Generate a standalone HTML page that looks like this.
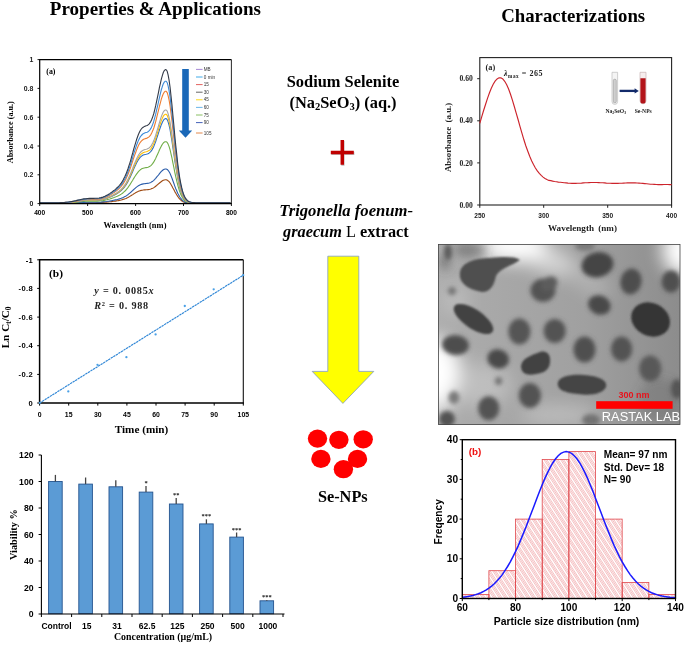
<!DOCTYPE html>
<html lang="en"><head><meta charset="utf-8"><title>Graphical abstract</title>
<style>
html,body{margin:0;padding:0;background:#fff;}
body{width:685px;height:645px;overflow:hidden;}
svg{display:block;}
text.s{font-family:"Liberation Serif",serif;}
text.a{font-family:"Liberation Sans",sans-serif;}
</style></head><body>
<svg width="685" height="645" viewBox="0 0 685 645">
<defs>
<filter id="b1" x="-30%" y="-30%" width="160%" height="160%"><feGaussianBlur stdDeviation="1.1"/></filter>
<filter id="b2" x="-30%" y="-30%" width="160%" height="160%"><feGaussianBlur stdDeviation="1.9"/></filter>
<filter id="b3" x="-50%" y="-50%" width="200%" height="200%"><feGaussianBlur stdDeviation="5"/></filter>
<filter id="b4" x="-50%" y="-50%" width="200%" height="200%"><feGaussianBlur stdDeviation="9"/></filter>
<filter id="sh" x="-30%" y="-30%" width="160%" height="160%"><feGaussianBlur stdDeviation="0.7"/></filter>
<clipPath id="temclip"><rect x="438.5" y="244.5" width="241.5" height="180"/></clipPath>
<clipPath id="c1"><rect x="39.5" y="59.5" width="192" height="144"/></clipPath>
<pattern id="hatch" width="4.6" height="8" patternUnits="userSpaceOnUse" patternTransform="rotate(-33)">
<rect width="4.6" height="8" fill="#fff"/>
<line x1="0.6" y1="0" x2="0.6" y2="8" stroke="#e66a6c" stroke-width="0.42"/>
<line x1="1.7" y1="0" x2="1.7" y2="8" stroke="#e66a6c" stroke-width="0.42"/>
<line x1="2.7" y1="0" x2="2.7" y2="8" stroke="#e66a6c" stroke-width="0.42"/>
</pattern>
</defs>
<rect width="685" height="645" fill="#fff"/>

<text class="s" x="155.4" y="14.5" font-size="19.05" text-anchor="middle" font-weight="bold" fill="#000">Properties &amp; Applications</text>
<text class="s" x="573.2" y="21.6" font-size="18.8" text-anchor="middle" font-weight="bold" fill="#000">Characterizations</text>
<g fill="none" stroke-width="1.1" stroke-linejoin="round" clip-path="url(#c1)">
<polyline stroke="#9e4a12" points="39.7,203.5 41.6,203.5 43.5,203.4 45.5,203.4 47.4,203.4 49.3,203.4 51.2,203.4 53.1,203.4 55.0,203.4 57.0,203.4 58.9,203.4 60.8,203.4 62.7,203.4 64.6,203.4 66.5,203.4 68.5,203.3 70.4,203.3 72.3,203.2 74.2,203.1 76.1,203.1 78.0,203.0 80.0,202.9 81.9,202.8 83.8,202.8 85.7,202.7 87.6,202.7 89.5,202.7 91.5,202.7 93.4,202.7 95.3,202.7 97.2,202.6 99.1,202.6 101.0,202.5 103.0,202.4 104.9,202.3 106.8,202.1 107.8,202.0 108.7,201.9 109.7,201.8 110.6,201.7 111.6,201.6 112.5,201.5 113.5,201.3 114.5,201.2 115.4,201.1 116.4,200.9 117.3,200.7 118.3,200.6 119.3,200.4 120.2,200.2 121.2,200.0 122.1,199.7 123.1,199.4 124.0,199.1 125.0,198.8 126.0,198.4 126.9,197.9 127.9,197.5 128.8,197.0 129.8,196.4 130.8,195.8 131.7,195.2 132.7,194.6 133.6,194.0 134.6,193.4 135.6,192.8 136.5,192.3 137.5,191.8 138.4,191.3 139.4,190.9 140.3,190.6 141.3,190.4 142.3,190.2 143.2,190.0 144.2,189.9 145.1,189.9 146.1,189.8 147.1,189.7 148.0,189.6 149.0,189.5 149.9,189.3 150.9,189.0 151.8,188.6 152.8,188.2 153.8,187.6 154.7,187.0 155.7,186.2 156.6,185.5 157.6,184.6 158.6,183.8 159.5,183.0 160.5,182.2 161.4,181.5 162.4,180.8 163.3,180.3 164.3,180.0 165.3,179.8 166.2,179.8 167.2,180.1 168.1,180.8 169.1,181.7 170.1,183.0 171.0,184.5 172.0,186.2 172.9,188.0 173.9,189.8 174.8,191.6 175.8,193.3 176.8,195.0 177.7,196.4 178.7,197.8 179.6,198.9 180.6,199.9 181.6,200.7 182.5,201.4 183.5,201.9 184.4,202.3 185.4,202.6 186.4,202.9 187.3,203.0 188.3,203.2 189.2,203.3 190.2,203.3 191.1,203.4 192.1,203.4 193.1,203.4 194.0,203.4 195.9,203.4 197.9,203.4 199.8,203.4 201.7,203.4 203.6,203.5 205.5,203.5 207.4,203.5 209.4,203.5 211.3,203.5 213.2,203.5 215.1,203.5 217.0,203.5 218.9,203.5 220.9,203.5 222.8,203.5 224.7,203.5 226.6,203.5 228.5,203.5 230.4,203.5"/>
<polyline stroke="#2a5caa" points="39.7,203.4 41.6,203.4 43.5,203.4 45.5,203.4 47.4,203.4 49.3,203.4 51.2,203.4 53.1,203.4 55.0,203.4 57.0,203.4 58.9,203.4 60.8,203.3 62.7,203.3 64.6,203.3 66.5,203.2 68.5,203.2 70.4,203.1 72.3,203.0 74.2,202.9 76.1,202.8 78.0,202.7 80.0,202.6 81.9,202.5 83.8,202.4 85.7,202.3 87.6,202.3 89.5,202.3 91.5,202.3 93.4,202.3 95.3,202.2 97.2,202.2 99.1,202.2 101.0,202.1 103.0,201.9 104.9,201.7 106.8,201.5 107.8,201.3 108.7,201.2 109.7,201.0 110.6,200.9 111.6,200.7 112.5,200.5 113.5,200.3 114.5,200.1 115.4,199.9 116.4,199.7 117.3,199.5 118.3,199.2 119.3,198.9 120.2,198.6 121.2,198.3 122.1,197.9 123.1,197.5 124.0,197.1 125.0,196.6 126.0,196.0 126.9,195.4 127.9,194.7 128.8,193.9 129.8,193.1 130.8,192.3 131.7,191.4 132.7,190.5 133.6,189.6 134.6,188.8 135.6,187.9 136.5,187.1 137.5,186.4 138.4,185.8 139.4,185.2 140.3,184.7 141.3,184.4 142.3,184.1 143.2,183.9 144.2,183.7 145.1,183.6 146.1,183.5 147.1,183.4 148.0,183.3 149.0,183.1 149.9,182.8 150.9,182.4 151.8,181.8 152.8,181.2 153.8,180.3 154.7,179.4 155.7,178.3 156.6,177.2 157.6,176.0 158.6,174.8 159.5,173.6 160.5,172.4 161.4,171.4 162.4,170.5 163.3,169.8 164.3,169.3 165.3,169.0 166.2,169.0 167.2,169.4 168.1,170.4 169.1,171.8 170.1,173.6 171.0,175.8 172.0,178.2 172.9,180.8 173.9,183.5 174.8,186.1 175.8,188.7 176.8,191.0 177.7,193.2 178.7,195.1 179.6,196.8 180.6,198.2 181.6,199.4 182.5,200.3 183.5,201.1 184.4,201.7 185.4,202.2 186.4,202.5 187.3,202.8 188.3,203.0 189.2,203.1 190.2,203.2 191.1,203.3 192.1,203.3 193.1,203.3 194.0,203.4 195.9,203.4 197.9,203.4 199.8,203.4 201.7,203.4 203.6,203.4 205.5,203.4 207.4,203.4 209.4,203.4 211.3,203.4 213.2,203.4 215.1,203.4 217.0,203.4 218.9,203.4 220.9,203.4 222.8,203.4 224.7,203.4 226.6,203.4 228.5,203.4 230.4,203.4"/>
<polyline stroke="#70ad47" points="39.7,203.2 41.6,203.2 43.5,203.2 45.5,203.2 47.4,203.2 49.3,203.2 51.2,203.2 53.1,203.2 55.0,203.2 57.0,203.2 58.9,203.2 60.8,203.1 62.7,203.1 64.6,203.0 66.5,203.0 68.5,202.9 70.4,202.7 72.3,202.6 74.2,202.4 76.1,202.2 78.0,202.0 80.0,201.8 81.9,201.6 83.8,201.4 85.7,201.3 87.6,201.2 89.5,201.2 91.5,201.2 93.4,201.2 95.3,201.2 97.2,201.1 99.1,201.0 101.0,200.8 103.0,200.6 104.9,200.2 106.8,199.8 107.8,199.5 108.7,199.3 109.7,199.0 110.6,198.7 111.6,198.4 112.5,198.0 113.5,197.7 114.5,197.3 115.4,197.0 116.4,196.6 117.3,196.2 118.3,195.7 119.3,195.2 120.2,194.7 121.2,194.1 122.1,193.5 123.1,192.7 124.0,191.9 125.0,191.0 126.0,190.0 126.9,188.8 127.9,187.6 128.8,186.3 129.8,184.9 130.8,183.3 131.7,181.8 132.7,180.2 133.6,178.6 134.6,177.0 135.6,175.5 136.5,174.1 137.5,172.8 138.4,171.6 139.4,170.6 140.3,169.8 141.3,169.1 142.3,168.6 143.2,168.3 144.2,168.0 145.1,167.8 146.1,167.6 147.1,167.5 148.0,167.2 149.0,166.8 149.9,166.3 150.9,165.6 151.8,164.6 152.8,163.4 153.8,161.9 154.7,160.2 155.7,158.4 156.6,156.3 157.6,154.2 158.6,152.0 159.5,149.8 160.5,147.8 161.4,145.9 162.4,144.3 163.3,143.0 164.3,142.1 165.3,141.7 166.2,141.7 167.2,142.4 168.1,144.1 169.1,146.6 170.1,149.9 171.0,153.8 172.0,158.2 172.9,162.8 173.9,167.6 174.8,172.3 175.8,176.8 176.8,181.1 177.7,184.9 178.7,188.4 179.6,191.4 180.6,193.9 181.6,196.0 182.5,197.7 183.5,199.1 184.4,200.2 185.4,201.0 186.4,201.7 187.3,202.1 188.3,202.5 189.2,202.7 190.2,202.9 191.1,203.0 192.1,203.1 193.1,203.1 194.0,203.2 195.9,203.2 197.9,203.2 199.8,203.2 201.7,203.2 203.6,203.2 205.5,203.2 207.4,203.2 209.4,203.2 211.3,203.2 213.2,203.2 215.1,203.2 217.0,203.2 218.9,203.2 220.9,203.2 222.8,203.2 224.7,203.2 226.6,203.2 228.5,203.2 230.4,203.2"/>
<polyline stroke="#2e6fc0" points="39.7,203.1 41.6,203.1 43.5,203.1 45.5,203.1 47.4,203.1 49.3,203.1 51.2,203.1 53.1,203.1 55.0,203.0 57.0,203.0 58.9,203.0 60.8,203.0 62.7,202.9 64.6,202.8 66.5,202.7 68.5,202.6 70.4,202.4 72.3,202.2 74.2,201.9 76.1,201.7 78.0,201.4 80.0,201.1 81.9,200.9 83.8,200.6 85.7,200.5 87.6,200.4 89.5,200.3 91.5,200.3 93.4,200.3 95.3,200.3 97.2,200.2 99.1,200.1 101.0,199.8 103.0,199.5 104.9,199.0 106.8,198.4 107.8,198.0 108.7,197.6 109.7,197.3 110.6,196.8 111.6,196.4 112.5,196.0 113.5,195.5 114.5,195.0 115.4,194.5 116.4,194.0 117.3,193.4 118.3,192.8 119.3,192.1 120.2,191.4 121.2,190.6 122.1,189.7 123.1,188.7 124.0,187.6 125.0,186.3 126.0,184.9 126.9,183.4 127.9,181.7 128.8,179.8 129.8,177.9 130.8,175.8 131.7,173.7 132.7,171.5 133.6,169.3 134.6,167.1 135.6,165.1 136.5,163.1 137.5,161.3 138.4,159.7 139.4,158.4 140.3,157.2 141.3,156.3 142.3,155.6 143.2,155.1 144.2,154.7 145.1,154.5 146.1,154.3 147.1,154.0 148.0,153.7 149.0,153.2 149.9,152.4 150.9,151.4 151.8,150.1 152.8,148.4 153.8,146.4 154.7,144.1 155.7,141.5 156.6,138.7 157.6,135.8 158.6,132.7 159.5,129.8 160.5,127.0 161.4,124.4 162.4,122.2 163.3,120.5 164.3,119.2 165.3,118.6 166.2,118.6 167.2,119.6 168.1,121.9 169.1,125.4 170.1,129.9 171.0,135.3 172.0,141.3 172.9,147.6 173.9,154.2 174.8,160.6 175.8,166.9 176.8,172.7 177.7,178.0 178.7,182.7 179.6,186.8 180.6,190.3 181.6,193.2 182.5,195.6 183.5,197.5 184.4,198.9 185.4,200.1 186.4,200.9 187.3,201.6 188.3,202.0 189.2,202.4 190.2,202.6 191.1,202.8 192.1,202.9 193.1,202.9 194.0,203.0 195.9,203.0 197.9,203.1 199.8,203.1 201.7,203.1 203.6,203.1 205.5,203.1 207.4,203.1 209.4,203.1 211.3,203.1 213.2,203.1 215.1,203.1 217.0,203.1 218.9,203.1 220.9,203.1 222.8,203.1 224.7,203.1 226.6,203.1 228.5,203.1 230.4,203.1"/>
<polyline stroke="#ffc000" points="39.7,203.0 41.6,203.0 43.5,203.0 45.5,203.0 47.4,203.0 49.3,203.0 51.2,203.0 53.1,203.0 55.0,203.0 57.0,203.0 58.9,203.0 60.8,202.9 62.7,202.9 64.6,202.8 66.5,202.7 68.5,202.5 70.4,202.3 72.3,202.1 74.2,201.9 76.1,201.6 78.0,201.3 80.0,201.0 81.9,200.7 83.8,200.5 85.7,200.3 87.6,200.2 89.5,200.1 91.5,200.1 93.4,200.1 95.3,200.1 97.2,200.0 99.1,199.9 101.0,199.6 103.0,199.2 104.9,198.7 106.8,198.1 107.8,197.7 108.7,197.3 109.7,196.9 110.6,196.5 111.6,196.0 112.5,195.6 113.5,195.1 114.5,194.6 115.4,194.0 116.4,193.5 117.3,192.9 118.3,192.2 119.3,191.5 120.2,190.8 121.2,189.9 122.1,189.0 123.1,187.9 124.0,186.8 125.0,185.4 126.0,184.0 126.9,182.3 127.9,180.6 128.8,178.6 129.8,176.6 130.8,174.4 131.7,172.1 132.7,169.9 133.6,167.6 134.6,165.3 135.6,163.1 136.5,161.1 137.5,159.2 138.4,157.5 139.4,156.1 140.3,154.9 141.3,153.9 142.3,153.2 143.2,152.6 144.2,152.3 145.1,152.0 146.1,151.8 147.1,151.5 148.0,151.1 149.0,150.6 149.9,149.8 150.9,148.8 151.8,147.4 152.8,145.6 153.8,143.5 154.7,141.1 155.7,138.4 156.6,135.4 157.6,132.3 158.6,129.1 159.5,126.0 160.5,123.1 161.4,120.4 162.4,118.1 163.3,116.2 164.3,114.9 165.3,114.3 166.2,114.3 167.2,115.4 168.1,117.8 169.1,121.4 170.1,126.2 171.0,131.8 172.0,138.1 172.9,144.8 173.9,151.7 174.8,158.5 175.8,165.0 176.8,171.1 177.7,176.7 178.7,181.6 179.6,185.9 180.6,189.6 181.6,192.7 182.5,195.2 183.5,197.1 184.4,198.7 185.4,199.9 186.4,200.8 187.3,201.5 188.3,202.0 189.2,202.3 190.2,202.6 191.1,202.7 192.1,202.8 193.1,202.9 194.0,203.0 195.9,203.0 197.9,203.0 199.8,203.0 201.7,203.0 203.6,203.0 205.5,203.0 207.4,203.0 209.4,203.0 211.3,203.0 213.2,203.0 215.1,203.0 217.0,203.0 218.9,203.0 220.9,203.0 222.8,203.0 224.7,203.0 226.6,203.0 228.5,203.0 230.4,203.0"/>
<polyline stroke="#a5a5a5" points="39.7,203.0 41.6,203.0 43.5,203.0 45.5,203.0 47.4,203.0 49.3,203.0 51.2,203.0 53.1,203.0 55.0,203.0 57.0,203.0 58.9,202.9 60.8,202.9 62.7,202.8 64.6,202.8 66.5,202.6 68.5,202.5 70.4,202.3 72.3,202.0 74.2,201.8 76.1,201.5 78.0,201.2 80.0,200.9 81.9,200.6 83.8,200.3 85.7,200.2 87.6,200.0 89.5,200.0 91.5,200.0 93.4,199.9 95.3,199.9 97.2,199.9 99.1,199.7 101.0,199.4 103.0,199.0 104.9,198.5 106.8,197.8 107.8,197.4 108.7,197.0 109.7,196.6 110.6,196.2 111.6,195.7 112.5,195.2 113.5,194.7 114.5,194.1 115.4,193.6 116.4,193.0 117.3,192.4 118.3,191.7 119.3,191.0 120.2,190.2 121.2,189.3 122.1,188.3 123.1,187.2 124.0,185.9 125.0,184.6 126.0,183.0 126.9,181.3 127.9,179.4 128.8,177.4 129.8,175.3 130.8,173.0 131.7,170.6 132.7,168.2 133.6,165.8 134.6,163.4 135.6,161.1 136.5,159.0 137.5,157.0 138.4,155.3 139.4,153.8 140.3,152.5 141.3,151.5 142.3,150.7 143.2,150.2 144.2,149.8 145.1,149.5 146.1,149.3 147.1,149.0 148.0,148.6 149.0,148.0 149.9,147.2 150.9,146.1 151.8,144.6 152.8,142.8 153.8,140.6 154.7,138.1 155.7,135.2 156.6,132.1 157.6,128.9 158.6,125.5 159.5,122.3 160.5,119.2 161.4,116.4 162.4,113.9 163.3,112.0 164.3,110.7 165.3,110.0 166.2,110.0 167.2,111.1 168.1,113.6 169.1,117.4 170.1,122.4 171.0,128.3 172.0,134.9 172.9,142.0 173.9,149.2 174.8,156.3 175.8,163.1 176.8,169.5 177.7,175.4 178.7,180.6 179.6,185.1 180.6,188.9 181.6,192.1 182.5,194.7 183.5,196.8 184.4,198.5 185.4,199.7 186.4,200.7 187.3,201.4 188.3,201.9 189.2,202.3 190.2,202.5 191.1,202.7 192.1,202.8 193.1,202.9 194.0,202.9 195.9,203.0 197.9,203.0 199.8,203.0 201.7,203.0 203.6,203.0 205.5,203.0 207.4,203.0 209.4,203.0 211.3,203.0 213.2,203.0 215.1,203.0 217.0,203.0 218.9,203.0 220.9,203.0 222.8,203.0 224.7,203.0 226.6,203.0 228.5,203.0 230.4,203.0"/>
<polyline stroke="#ed7d31" points="39.7,202.9 41.6,202.9 43.5,202.9 45.5,202.9 47.4,202.9 49.3,202.9 51.2,202.9 53.1,202.9 55.0,202.9 57.0,202.8 58.9,202.8 60.8,202.8 62.7,202.7 64.6,202.6 66.5,202.4 68.5,202.3 70.4,202.0 72.3,201.7 74.2,201.4 76.1,201.1 78.0,200.7 80.0,200.3 81.9,200.0 83.8,199.7 85.7,199.5 87.6,199.3 89.5,199.3 91.5,199.2 93.4,199.2 95.3,199.2 97.2,199.1 99.1,198.9 101.0,198.6 103.0,198.1 104.9,197.5 106.8,196.7 107.8,196.2 108.7,195.7 109.7,195.2 110.6,194.7 111.6,194.1 112.5,193.5 113.5,192.9 114.5,192.2 115.4,191.6 116.4,190.9 117.3,190.1 118.3,189.3 119.3,188.4 120.2,187.5 121.2,186.4 122.1,185.2 123.1,183.9 124.0,182.4 125.0,180.7 126.0,178.9 126.9,176.8 127.9,174.6 128.8,172.2 129.8,169.6 130.8,166.9 131.7,164.0 132.7,161.1 133.6,158.2 134.6,155.4 135.6,152.7 136.5,150.1 137.5,147.7 138.4,145.6 139.4,143.8 140.3,142.3 141.3,141.1 142.3,140.2 143.2,139.5 144.2,139.0 145.1,138.7 146.1,138.4 147.1,138.1 148.0,137.6 149.0,136.9 149.9,135.9 150.9,134.6 151.8,132.8 152.8,130.6 153.8,128.0 154.7,125.0 155.7,121.5 156.6,117.8 157.6,113.9 158.6,109.9 159.5,106.0 160.5,102.3 161.4,98.9 162.4,96.0 163.3,93.7 164.3,92.1 165.3,91.2 166.2,91.3 167.2,92.6 168.1,95.6 169.1,100.2 170.1,106.2 171.0,113.3 172.0,121.2 172.9,129.6 173.9,138.3 174.8,146.8 175.8,155.0 176.8,162.7 177.7,169.7 178.7,176.0 179.6,181.4 180.6,186.0 181.6,189.8 182.5,193.0 183.5,195.5 184.4,197.4 185.4,199.0 186.4,200.1 187.3,200.9 188.3,201.5 189.2,202.0 190.2,202.3 191.1,202.5 192.1,202.6 193.1,202.7 194.0,202.8 195.9,202.9 197.9,202.9 199.8,202.9 201.7,202.9 203.6,202.9 205.5,202.9 207.4,202.9 209.4,202.9 211.3,202.9 213.2,202.9 215.1,202.9 217.0,202.9 218.9,202.9 220.9,202.9 222.8,202.9 224.7,202.9 226.6,202.9 228.5,202.9 230.4,202.9"/>
<polyline stroke="#3d8bd8" points="39.7,202.8 41.6,202.8 43.5,202.8 45.5,202.8 47.4,202.8 49.3,202.8 51.2,202.8 53.1,202.8 55.0,202.8 57.0,202.8 58.9,202.7 60.8,202.7 62.7,202.6 64.6,202.5 66.5,202.3 68.5,202.1 70.4,201.9 72.3,201.6 74.2,201.2 76.1,200.8 78.0,200.4 80.0,200.0 81.9,199.7 83.8,199.3 85.7,199.1 87.6,198.9 89.5,198.9 91.5,198.8 93.4,198.8 95.3,198.8 97.2,198.7 99.1,198.5 101.0,198.1 103.0,197.6 104.9,196.9 106.8,196.0 107.8,195.6 108.7,195.0 109.7,194.5 110.6,193.9 111.6,193.2 112.5,192.6 113.5,191.9 114.5,191.2 115.4,190.5 116.4,189.7 117.3,188.9 118.3,188.0 119.3,187.1 120.2,186.0 121.2,184.9 122.1,183.6 123.1,182.1 124.0,180.5 125.0,178.7 126.0,176.7 126.9,174.4 127.9,172.0 128.8,169.4 129.8,166.5 130.8,163.6 131.7,160.5 132.7,157.3 133.6,154.2 134.6,151.1 135.6,148.1 136.5,145.3 137.5,142.7 138.4,140.4 139.4,138.4 140.3,136.8 141.3,135.5 142.3,134.5 143.2,133.7 144.2,133.2 145.1,132.8 146.1,132.5 147.1,132.2 148.0,131.7 149.0,130.9 149.9,129.9 150.9,128.4 151.8,126.5 152.8,124.1 153.8,121.2 154.7,117.9 155.7,114.2 156.6,110.1 157.6,105.9 158.6,101.5 159.5,97.3 160.5,93.2 161.4,89.5 162.4,86.3 163.3,83.8 164.3,82.1 165.3,81.2 166.2,81.2 167.2,82.7 168.1,85.9 169.1,90.9 170.1,97.4 171.0,105.2 172.0,113.8 172.9,123.0 173.9,132.4 174.8,141.7 175.8,150.7 176.8,159.1 177.7,166.7 178.7,173.5 179.6,179.4 180.6,184.4 181.6,188.6 182.5,192.0 183.5,194.8 184.4,196.9 185.4,198.5 186.4,199.8 187.3,200.7 188.3,201.4 189.2,201.8 190.2,202.2 191.1,202.4 192.1,202.6 193.1,202.7 194.0,202.7 195.9,202.8 197.9,202.8 199.8,202.8 201.7,202.8 203.6,202.8 205.5,202.8 207.4,202.8 209.4,202.8 211.3,202.8 213.2,202.8 215.1,202.8 217.0,202.8 218.9,202.8 220.9,202.8 222.8,202.8 224.7,202.8 226.6,202.8 228.5,202.8 230.4,202.8"/>
<polyline stroke="#333a48" points="39.7,202.8 41.6,202.8 43.5,202.8 45.5,202.8 47.4,202.8 49.3,202.7 51.2,202.7 53.1,202.7 55.0,202.7 57.0,202.7 58.9,202.7 60.8,202.6 62.7,202.5 64.6,202.4 66.5,202.2 68.5,202.0 70.4,201.7 72.3,201.4 74.2,201.0 76.1,200.6 78.0,200.1 80.0,199.7 81.9,199.3 83.8,198.9 85.7,198.7 87.6,198.5 89.5,198.4 91.5,198.4 93.4,198.4 95.3,198.3 97.2,198.2 99.1,198.0 101.0,197.6 103.0,197.1 104.9,196.3 106.8,195.3 107.8,194.8 108.7,194.2 109.7,193.6 110.6,192.9 111.6,192.3 112.5,191.6 113.5,190.8 114.5,190.1 115.4,189.3 116.4,188.4 117.3,187.5 118.3,186.6 119.3,185.5 120.2,184.4 121.2,183.1 122.1,181.7 123.1,180.1 124.0,178.3 125.0,176.3 126.0,174.1 126.9,171.7 127.9,169.0 128.8,166.1 129.8,163.1 130.8,159.8 131.7,156.4 132.7,153.0 133.6,149.5 134.6,146.1 135.6,142.9 136.5,139.8 137.5,137.0 138.4,134.5 139.4,132.3 140.3,130.5 141.3,129.0 142.3,127.9 143.2,127.2 144.2,126.6 145.1,126.2 146.1,125.8 147.1,125.4 148.0,124.9 149.0,124.1 149.9,122.9 150.9,121.3 151.8,119.2 152.8,116.6 153.8,113.5 154.7,109.8 155.7,105.7 156.6,101.3 157.6,96.7 158.6,91.9 159.5,87.2 160.5,82.8 161.4,78.8 162.4,75.3 163.3,72.5 164.3,70.6 165.3,69.6 166.2,69.7 167.2,71.3 168.1,74.9 169.1,80.3 170.1,87.5 171.0,95.9 172.0,105.3 172.9,115.4 173.9,125.7 174.8,135.9 175.8,145.7 176.8,154.9 177.7,163.2 178.7,170.7 179.6,177.1 180.6,182.6 181.6,187.2 182.5,190.9 183.5,193.9 184.4,196.3 185.4,198.1 186.4,199.4 187.3,200.4 188.3,201.2 189.2,201.7 190.2,202.0 191.1,202.3 192.1,202.5 193.1,202.6 194.0,202.6 195.9,202.7 197.9,202.7 199.8,202.8 201.7,202.8 203.6,202.8 205.5,202.8 207.4,202.8 209.4,202.8 211.3,202.8 213.2,202.8 215.1,202.8 217.0,202.8 218.9,202.8 220.9,202.8 222.8,202.8 224.7,202.8 226.6,202.8 228.5,202.8 230.4,202.8"/>
</g>
<path d="M39.7 59.6H231.4" stroke="#000" stroke-width="1.3" fill="none"/>
<path d="M231.4 59.6V203.6" stroke="#111" stroke-width="0.9" fill="none"/>
<path d="M39.7 59.0V203.6H231.8" stroke="#000" stroke-width="1.2" fill="none"/>
<path d="M37.5 203.6H39.7M37.5 174.8H39.7M37.5 146.0H39.7M37.5 117.2H39.7M37.5 88.4H39.7M37.5 59.6H39.7M39.7 203.6V206.0M87.6 203.6V206.0M135.6 203.6V206.0M183.5 203.6V206.0M231.4 203.6V206.0" stroke="#000" stroke-width="0.9" fill="none"/>
<text class="a" x="33.300000000000004" y="206.1" font-size="6.9" text-anchor="end" font-weight="bold" fill="#222">0</text>
<text class="a" x="33.300000000000004" y="177.29999999999998" font-size="6.9" text-anchor="end" font-weight="bold" fill="#222">0.2</text>
<text class="a" x="33.300000000000004" y="148.5" font-size="6.9" text-anchor="end" font-weight="bold" fill="#222">0.4</text>
<text class="a" x="33.300000000000004" y="119.69999999999999" font-size="6.9" text-anchor="end" font-weight="bold" fill="#222">0.6</text>
<text class="a" x="33.300000000000004" y="90.89999999999999" font-size="6.9" text-anchor="end" font-weight="bold" fill="#222">0.8</text>
<text class="a" x="33.300000000000004" y="62.099999999999994" font-size="6.9" text-anchor="end" font-weight="bold" fill="#222">1</text>
<text class="a" x="39.7" y="215.0" font-size="6.6" text-anchor="middle" font-weight="bold" fill="#000">400</text>
<text class="a" x="87.625" y="215.0" font-size="6.6" text-anchor="middle" font-weight="bold" fill="#000">500</text>
<text class="a" x="135.55" y="215.0" font-size="6.6" text-anchor="middle" font-weight="bold" fill="#000">600</text>
<text class="a" x="183.47499999999997" y="215.0" font-size="6.6" text-anchor="middle" font-weight="bold" fill="#000">700</text>
<text class="a" x="231.39999999999998" y="215.0" font-size="6.6" text-anchor="middle" font-weight="bold" fill="#000">800</text>
<text class="s" x="135" y="227.9" font-size="8.4" text-anchor="middle" font-weight="bold" fill="#000" letter-spacing="0.1">Wavelength (nm)</text>
<text class="s" transform="translate(13.2,132.2) rotate(-90)" font-size="8.2" text-anchor="middle" font-weight="bold">Absorbance (a.u.)</text>
<text class="s" x="46.3" y="73.8" font-size="7.9" text-anchor="start" font-weight="bold" fill="#000">(a)</text>
<path d="M196 69.4H202.6" stroke="#9c7bd0" stroke-width="0.9"/>
<text class="a" x="203.8" y="71.0" font-size="4.6" text-anchor="start" font-weight="normal" fill="#333">MB</text>
<path d="M196 77.0H202.6" stroke="#2ea3e6" stroke-width="0.9"/>
<text class="a" x="203.8" y="78.6" font-size="4.6" text-anchor="start" font-weight="normal" fill="#333">0 min</text>
<path d="M196 84.6H202.6" stroke="#e0504d" stroke-width="0.9"/>
<text class="a" x="203.8" y="86.19999999999999" font-size="4.6" text-anchor="start" font-weight="normal" fill="#333">15</text>
<path d="M196 92.2H202.6" stroke="#555" stroke-width="0.9"/>
<text class="a" x="203.8" y="93.8" font-size="4.6" text-anchor="start" font-weight="normal" fill="#333">30</text>
<path d="M196 99.8H202.6" stroke="#ffd500" stroke-width="0.9"/>
<text class="a" x="203.8" y="101.39999999999999" font-size="4.6" text-anchor="start" font-weight="normal" fill="#333">45</text>
<path d="M196 107.4H202.6" stroke="#5aaee6" stroke-width="0.9"/>
<text class="a" x="203.8" y="109.0" font-size="4.6" text-anchor="start" font-weight="normal" fill="#333">60</text>
<path d="M196 115.0H202.6" stroke="#7db954" stroke-width="0.9"/>
<text class="a" x="203.8" y="116.6" font-size="4.6" text-anchor="start" font-weight="normal" fill="#333">75</text>
<path d="M196 122.6H202.6" stroke="#2f4fb0" stroke-width="0.9"/>
<text class="a" x="203.8" y="124.19999999999999" font-size="4.6" text-anchor="start" font-weight="normal" fill="#333">90</text>
<path d="M196 133.0H202.6" stroke="#e07b39" stroke-width="0.9"/>
<text class="a" x="203.8" y="134.6" font-size="4.6" text-anchor="start" font-weight="normal" fill="#333">105</text>
<path d="M182.2 69H188.8V130.6H192.2L185.5 137.8L178.8 130.6H182.2Z" fill="#1a68b8"/>
<path d="M39.6 259.8H243.3" stroke="#000" stroke-width="1.5" fill="none"/>
<path d="M243.3 259.8V403.0" stroke="#111" stroke-width="1.1" fill="none"/>
<path d="M39.6 259.1V403.0H243.8" stroke="#000" stroke-width="1.5" fill="none"/>
<path d="M37.2 403.0H39.6M37.2 374.4H39.6M37.2 345.7H39.6M37.2 317.1H39.6M37.2 288.4H39.6M37.2 259.8H39.6M39.6 403.0V405.6M68.7 403.0V405.6M97.8 403.0V405.6M126.9 403.0V405.6M156.0 403.0V405.6M185.1 403.0V405.6M214.2 403.0V405.6M243.3 403.0V405.6" stroke="#000" stroke-width="1" fill="none"/>
<text class="a" x="33.2" y="405.7" font-size="7.6" text-anchor="end" font-weight="bold" fill="#000" letter-spacing="0.4">0</text>
<text class="a" x="33.2" y="377.06" font-size="7.6" text-anchor="end" font-weight="bold" fill="#000" letter-spacing="0.4">-0.2</text>
<text class="a" x="33.2" y="348.42" font-size="7.6" text-anchor="end" font-weight="bold" fill="#000" letter-spacing="0.4">-0.4</text>
<text class="a" x="33.2" y="319.78000000000003" font-size="7.6" text-anchor="end" font-weight="bold" fill="#000" letter-spacing="0.4">-0.6</text>
<text class="a" x="33.2" y="291.14" font-size="7.6" text-anchor="end" font-weight="bold" fill="#000" letter-spacing="0.4">-0.8</text>
<text class="a" x="33.2" y="262.5" font-size="7.6" text-anchor="end" font-weight="bold" fill="#000" letter-spacing="0.4">-1</text>
<text class="a" x="39.6" y="417.2" font-size="6.9" text-anchor="middle" font-weight="bold" fill="#000">0</text>
<text class="a" x="68.7" y="417.2" font-size="6.9" text-anchor="middle" font-weight="bold" fill="#000">15</text>
<text class="a" x="97.80000000000001" y="417.2" font-size="6.9" text-anchor="middle" font-weight="bold" fill="#000">30</text>
<text class="a" x="126.9" y="417.2" font-size="6.9" text-anchor="middle" font-weight="bold" fill="#000">45</text>
<text class="a" x="156.0" y="417.2" font-size="6.9" text-anchor="middle" font-weight="bold" fill="#000">60</text>
<text class="a" x="185.10000000000002" y="417.2" font-size="6.9" text-anchor="middle" font-weight="bold" fill="#000">75</text>
<text class="a" x="214.2" y="417.2" font-size="6.9" text-anchor="middle" font-weight="bold" fill="#000">90</text>
<text class="a" x="243.3" y="417.2" font-size="6.9" text-anchor="middle" font-weight="bold" fill="#000">105</text>
<text class="s" x="141.5" y="433.2" font-size="11.2" text-anchor="middle" font-weight="bold" fill="#000">Time (min)</text>
<text class="s" transform="translate(9.0,327.4) rotate(-90)" font-size="11.2" text-anchor="middle" font-weight="bold">Ln C<tspan font-size="7.4" dy="2">t</tspan><tspan dy="-2">/C</tspan><tspan font-size="7.4" dy="2">0</tspan></text>
<text class="s" x="49.0" y="277.2" font-size="11.4" text-anchor="start" font-weight="bold" fill="#000">(b)</text>
<path d="M39.6 403.0L243.3 275.2" stroke="#2e86d6" stroke-width="1.15" stroke-dasharray="2.4 0.6" fill="none"/>
<circle cx="68.3" cy="391.4" r="1.15" fill="#4aa0e6"/>
<circle cx="97.5" cy="364.8" r="1.15" fill="#4aa0e6"/>
<circle cx="126.4" cy="357.2" r="1.15" fill="#4aa0e6"/>
<circle cx="155.6" cy="334.4" r="1.15" fill="#4aa0e6"/>
<circle cx="184.8" cy="306" r="1.15" fill="#4aa0e6"/>
<circle cx="213.7" cy="289.3" r="1.15" fill="#4aa0e6"/>
<circle cx="39.8" cy="402.8" r="1.15" fill="#4aa0e6"/>
<circle cx="243.2" cy="275.2" r="1.15" fill="#4aa0e6"/>
<text class="s" x="94.3" y="294.3" font-size="10.2" font-weight="bold" fill="#222" letter-spacing="0.75"><tspan font-style="italic">y</tspan> = 0. 0085<tspan font-style="italic">x</tspan></text>
<text class="s" x="94.3" y="309.3" font-size="10.2" font-weight="bold" fill="#222" letter-spacing="0.75"><tspan font-style="italic">R</tspan><tspan font-size="6.4" dy="-3.2">2</tspan><tspan dy="3.2"> = 0. 988</tspan></text>
<rect x="48.6" y="481.5" width="13.6" height="132.2" fill="#5b9bd5" stroke="#24538f" stroke-width="0.9"/>
<path d="M55.4 481.5V474.9" stroke="#444" stroke-width="1.3"/>
<rect x="78.8" y="484.1" width="13.6" height="129.6" fill="#5b9bd5" stroke="#24538f" stroke-width="0.9"/>
<path d="M85.6 484.1V477.5" stroke="#444" stroke-width="1.3"/>
<rect x="109.0" y="486.8" width="13.6" height="126.9" fill="#5b9bd5" stroke="#24538f" stroke-width="0.9"/>
<path d="M115.8 486.8V480.2" stroke="#444" stroke-width="1.3"/>
<rect x="139.2" y="492.1" width="13.6" height="121.6" fill="#5b9bd5" stroke="#24538f" stroke-width="0.9"/>
<path d="M146.0 492.1V486.1" stroke="#444" stroke-width="1.3"/>
<text class="s" x="146.0" y="485.3375" font-size="6.4" text-anchor="middle" font-weight="bold" fill="#111">*</text>
<rect x="169.4" y="504.0" width="13.6" height="109.7" fill="#5b9bd5" stroke="#24538f" stroke-width="0.9"/>
<path d="M176.2 504.0V498.1" stroke="#444" stroke-width="1.3"/>
<text class="s" x="176.2" y="497.2625" font-size="6.4" text-anchor="middle" font-weight="bold" fill="#111">**</text>
<rect x="199.6" y="523.9" width="13.6" height="89.8" fill="#5b9bd5" stroke="#24538f" stroke-width="0.9"/>
<path d="M206.4 523.9V519.3" stroke="#444" stroke-width="1.3"/>
<text class="s" x="206.4" y="518.4625000000001" font-size="6.4" text-anchor="middle" font-weight="bold" fill="#111">***</text>
<rect x="229.8" y="537.1" width="13.6" height="76.6" fill="#5b9bd5" stroke="#24538f" stroke-width="0.9"/>
<path d="M236.6 537.1V532.5" stroke="#444" stroke-width="1.3"/>
<text class="s" x="236.6" y="531.7125000000001" font-size="6.4" text-anchor="middle" font-weight="bold" fill="#111">***</text>
<rect x="260.0" y="600.8" width="13.6" height="12.9" fill="#5b9bd5" stroke="#24538f" stroke-width="0.9"/>
<path d="M266.8 600.8V600.0" stroke="#444" stroke-width="1.3"/>
<text class="s" x="266.8" y="599.1550000000001" font-size="6.4" text-anchor="middle" font-weight="bold" fill="#111">***</text>
<path d="M41.4 455.0V614.0H284.5" stroke="#000" stroke-width="1.1" fill="none"/>
<path d="M38.6 614.0H41.4M38.6 587.5H41.4M38.6 561.0H41.4M38.6 534.5H41.4M38.6 508.0H41.4M38.6 481.5H41.4M38.6 455.0H41.4M41.4 614.0V617.0M71.6 614.0V617.0M101.8 614.0V617.0M132.0 614.0V617.0M162.2 614.0V617.0M192.4 614.0V617.0M222.6 614.0V617.0M252.8 614.0V617.0M283.0 614.0V617.0" stroke="#000" stroke-width="1" fill="none"/>
<text class="a" x="33.6" y="617.1" font-size="8.7" text-anchor="end" font-weight="bold" fill="#000">0</text>
<text class="a" x="33.6" y="590.6" font-size="8.7" text-anchor="end" font-weight="bold" fill="#000">20</text>
<text class="a" x="33.6" y="564.1" font-size="8.7" text-anchor="end" font-weight="bold" fill="#000">40</text>
<text class="a" x="33.6" y="537.6" font-size="8.7" text-anchor="end" font-weight="bold" fill="#000">60</text>
<text class="a" x="33.6" y="511.1" font-size="8.7" text-anchor="end" font-weight="bold" fill="#000">80</text>
<text class="a" x="33.6" y="484.6" font-size="8.7" text-anchor="end" font-weight="bold" fill="#000">100</text>
<text class="a" x="33.6" y="458.1" font-size="8.7" text-anchor="end" font-weight="bold" fill="#000">120</text>
<text class="a" x="56.5" y="628.7" font-size="8.5" text-anchor="middle" font-weight="bold" fill="#000">Control</text>
<text class="a" x="86.69999999999999" y="628.7" font-size="8.5" text-anchor="middle" font-weight="bold" fill="#000">15</text>
<text class="a" x="116.89999999999999" y="628.7" font-size="8.5" text-anchor="middle" font-weight="bold" fill="#000">31</text>
<text class="a" x="147.1" y="628.7" font-size="8.5" text-anchor="middle" font-weight="bold" fill="#000">62.5</text>
<text class="a" x="177.29999999999998" y="628.7" font-size="8.5" text-anchor="middle" font-weight="bold" fill="#000">125</text>
<text class="a" x="207.5" y="628.7" font-size="8.5" text-anchor="middle" font-weight="bold" fill="#000">250</text>
<text class="a" x="237.7" y="628.7" font-size="8.5" text-anchor="middle" font-weight="bold" fill="#000">500</text>
<text class="a" x="267.90000000000003" y="628.7" font-size="8.5" text-anchor="middle" font-weight="bold" fill="#000">1000</text>
<text class="s" x="163" y="640.2" font-size="9.9" text-anchor="middle" font-weight="bold" fill="#000">Concentration (µg/mL)</text>
<text class="s" transform="translate(16.9,534.6) rotate(-90)" font-size="10.3" text-anchor="middle" font-weight="bold">Viability %</text>
<text class="s" x="343" y="87.3" font-size="16.4" text-anchor="middle" font-weight="bold" fill="#000">Sodium Selenite</text>
<text class="s" x="343" y="108" font-size="16.4" text-anchor="middle" font-weight="bold">(Na<tspan font-size="10.6" dy="2.2">2</tspan><tspan dy="-2.2">SeO</tspan><tspan font-size="10.6" dy="2.2">3</tspan><tspan dy="-2.2">) (aq.)</tspan></text>
<path d="M331.4 153.3H354.4M342.9 141V165.8" stroke="#888" stroke-opacity="0.55" stroke-width="3.2" fill="none" filter="url(#sh)"/>
<path d="M330.8 152.4H353.8M342.3 140V164.8" stroke="#c00000" stroke-width="3.5" fill="none"/>
<text class="s" x="346.1" y="216.4" font-size="16.65" text-anchor="middle" font-weight="bold" fill="#000" font-style="italic">Trigonella foenum-</text>
<text class="s" x="345.9" y="237" font-size="16.3" text-anchor="middle" font-weight="bold"><tspan font-style="italic">graecum</tspan><tspan font-weight="normal"> L</tspan> extract</text>
<path d="M327.8 256.2H358.8V371.4H373.8L342.9 403.4L312.2 371.4H327.8Z" fill="#ffff00" stroke="#7f9bc8" stroke-width="0.8" stroke-linejoin="miter"/>
<ellipse cx="317.5" cy="438.6" rx="9.7" ry="9.1" fill="#ff0000"/>
<ellipse cx="338.9" cy="439.8" rx="9.7" ry="9.1" fill="#ff0000"/>
<ellipse cx="363.2" cy="439.3" rx="9.7" ry="9.1" fill="#ff0000"/>
<ellipse cx="320.9" cy="458.9" rx="9.7" ry="9.1" fill="#ff0000"/>
<ellipse cx="357.5" cy="458.9" rx="9.7" ry="9.1" fill="#ff0000"/>
<ellipse cx="343.4" cy="469.2" rx="9.7" ry="9.1" fill="#ff0000"/>
<text class="s" x="342.8" y="502.3" font-size="16.3" text-anchor="middle" font-weight="bold" fill="#000">Se-NPs</text>
<rect x="479.8" y="57.6" width="191.8" height="147.4" fill="none" stroke="#222" stroke-width="1.1"/>
<path d="M477.2 205.0H479.8M477.2 162.9H479.8M477.2 120.8H479.8M477.2 78.7H479.8M479.8 205.0V207.8M543.7 205.0V207.8M607.7 205.0V207.8M671.6 205.0V207.8" stroke="#222" stroke-width="1" fill="none"/>
<text class="s" x="472.8" y="207.6" font-size="7.6" text-anchor="end" font-weight="bold" fill="#222">0.00</text>
<text class="s" x="472.8" y="165.5" font-size="7.6" text-anchor="end" font-weight="bold" fill="#222">0.20</text>
<text class="s" x="472.8" y="123.39999999999999" font-size="7.6" text-anchor="end" font-weight="bold" fill="#222">0.40</text>
<text class="s" x="472.8" y="81.29999999999997" font-size="7.6" text-anchor="end" font-weight="bold" fill="#222">0.60</text>
<text class="a" x="479.8" y="217.6" font-size="6.6" text-anchor="middle" font-weight="bold" fill="#222">250</text>
<text class="a" x="543.7333333333333" y="217.6" font-size="6.6" text-anchor="middle" font-weight="bold" fill="#222">300</text>
<text class="a" x="607.6666666666667" y="217.6" font-size="6.6" text-anchor="middle" font-weight="bold" fill="#222">350</text>
<text class="a" x="671.6" y="217.6" font-size="6.6" text-anchor="middle" font-weight="bold" fill="#222">400</text>
<text class="s" x="582.5" y="231.4" font-size="9.1" text-anchor="middle" font-weight="bold" fill="#222" word-spacing="2">Wavelength (nm)</text>
<text class="s" transform="translate(451.3,137.4) rotate(-90)" font-size="8.9" text-anchor="middle" font-weight="bold" fill="#222" word-spacing="2">Absorbance (a.u.)</text>
<text class="s" x="485.6" y="70.2" font-size="8.3" text-anchor="start" font-weight="bold" fill="#222">(a)</text>
<text class="s" x="504" y="76.4" font-size="8" font-weight="bold" fill="#222" letter-spacing="0.55"><tspan font-style="italic">λ</tspan><tspan font-size="5.2" dy="1.6">max</tspan><tspan dy="-1.6"> = 265</tspan></text>
<polyline fill="none" stroke="#cc232b" stroke-width="1.15" points="479.8,123.4 481.7,116.9 483.6,110.5 485.6,104.3 487.5,98.4 489.4,93.0 491.3,88.2 493.2,84.2 495.1,81.1 497.1,78.9 499.0,77.8 500.9,77.8 502.8,78.9 504.7,81.3 506.7,84.7 508.6,89.0 510.5,94.2 512.4,100.1 514.3,106.5 516.2,113.1 518.2,120.0 520.1,126.8 522.0,133.4 523.9,139.8 525.8,145.7 527.8,151.2 529.7,156.2 531.6,160.7 533.5,164.6 535.4,168.0 537.3,170.9 539.3,173.4 541.2,175.4 543.1,177.1 545.0,178.4 546.9,179.5 548.8,180.4 550.8,180.6 552.7,181.1 554.6,181.5 556.5,181.8 558.4,182.1 560.4,182.3 562.3,182.5 564.2,182.8 566.1,182.9 568.0,183.1 569.9,183.2 571.9,183.3 573.8,183.3 575.7,183.3 577.6,183.2 579.5,183.2 581.5,183.1 583.4,182.9 585.3,182.8 587.2,182.7 589.1,182.6 591.0,182.5 593.0,182.5 594.9,182.5 596.8,182.5 598.7,182.6 600.6,182.7 602.6,182.8 604.5,182.9 606.4,183.1 608.3,183.2 610.2,183.2 612.1,183.3 614.1,183.3 616.0,183.3 617.9,183.3 619.8,183.2 621.7,183.2 623.7,183.1 625.6,183.0 627.5,182.9 629.4,182.8 631.3,182.8 633.2,182.8 635.2,182.9 637.1,183.0 639.0,183.1 640.9,183.3 642.8,183.4 644.7,183.6 646.7,183.8 648.6,184.0 650.5,184.2 652.4,184.3 654.3,184.4 656.3,184.5 658.2,184.6 660.1,184.6 662.0,184.6 663.9,184.5 665.8,184.5 667.8,184.5 669.7,184.6 671.6,184.6"/>
<path d="M612 72.3H617.6V101.6A2.8 2.8 0 0 1 612 101.6Z" fill="#f4f4f4" stroke="#bdbdbd" stroke-width="0.7"/>
<rect x="613.3" y="79.2" width="3" height="23.6" rx="1.4" fill="#cfcfcf" stroke="#8c8c8c" stroke-width="0.5"/>
<path d="M640 72.3H646V100.8A3 3 0 0 1 640 100.8Z" fill="#f6eeee" stroke="#c9b4b4" stroke-width="0.7"/>
<path d="M640.4 78.2H645.6V101A2.6 2.6 0 0 1 640.4 101Z" fill="#b3141a"/>
<path d="M619.6 90.9H635.4" stroke="#122a6a" stroke-width="2.3"/>
<path d="M634.6 88.2L638.8 90.9L634.6 93.6Z" fill="#122a6a"/>
<text class="s" x="615.8" y="113.2" font-size="5.6" text-anchor="middle" font-weight="bold" fill="#222">Na<tspan font-size="3.8" dy="0.7">2</tspan><tspan dy="-0.7">SeO</tspan><tspan font-size="3.8" dy="0.7">3</tspan></text>
<text class="s" x="643.2" y="113.2" font-size="5.6" text-anchor="middle" font-weight="bold" fill="#222">Se-NPs</text>
<g clip-path="url(#temclip)">
<rect x="438" y="244" width="243" height="182" fill="#999"/>
<linearGradient id="tg" x1="0" x2="1" y1="0" y2="0"><stop offset="0" stop-color="#adadad"/><stop offset="0.6" stop-color="#a0a0a0"/><stop offset="1" stop-color="#8c8c8c"/></linearGradient>
<rect x="438" y="244" width="243" height="182" fill="url(#tg)"/>
<g filter="url(#b4)" fill="#fff">
<ellipse cx="514" cy="246" rx="34" ry="16" opacity="1"/>
<ellipse cx="520" cy="251" rx="22" ry="10" opacity="1"/>
<ellipse cx="550" cy="261" rx="26" ry="13" opacity="0.55" transform="rotate(15 550 261)"/>
<ellipse cx="590" cy="282" rx="24" ry="10" opacity="0.22" transform="rotate(30 590 282)"/>
<ellipse cx="434" cy="372" rx="26" ry="34" opacity="1"/>
<ellipse cx="444" cy="368" rx="16" ry="22" opacity="1"/>
<ellipse cx="440" cy="405" rx="10" ry="14" opacity="0.6"/>
<ellipse cx="684" cy="250" rx="22" ry="26" opacity="1"/>
<ellipse cx="676" cy="254" rx="11" ry="16" opacity="1"/>
<ellipse cx="482" cy="385" rx="30" ry="22" opacity="0.25"/>
<ellipse cx="560" cy="415" rx="40" ry="10" opacity="0.3"/>
<ellipse cx="455" cy="300" rx="14" ry="16" opacity="0.2"/>
</g>
<g filter="url(#b3)" fill="#555">
<ellipse cx="470" cy="250" rx="16" ry="7" opacity="0.5"/>
<ellipse cx="445" cy="262" rx="5" ry="8" opacity="0.6"/>
<ellipse cx="660" cy="400" rx="22" ry="22" opacity="0.25"/>
</g>
<g filter="url(#b2)">
<ellipse cx="543" cy="290.3" rx="12.5" ry="11.5" fill="#525252" transform="rotate(0 543 290.3)"/>
<ellipse cx="549" cy="284" rx="9" ry="7" fill="#5c5c5c" transform="rotate(-30 549 284)"/>
<ellipse cx="597.5" cy="264.8" rx="16" ry="12.5" fill="#444444" transform="rotate(-12 597.5 264.8)"/>
<ellipse cx="631" cy="281.5" rx="10.5" ry="13" fill="#4e4e4e" transform="rotate(10 631 281.5)"/>
<ellipse cx="671" cy="281.5" rx="9.5" ry="11" fill="#505050" transform="rotate(0 671 281.5)"/>
<ellipse cx="599.4" cy="305" rx="11.5" ry="9.5" fill="#484848" transform="rotate(20 599.4 305)"/>
<ellipse cx="519.4" cy="331.5" rx="11" ry="13" fill="#545454" transform="rotate(0 519.4 331.5)"/>
<ellipse cx="554.7" cy="331" rx="11" ry="12" fill="#525252" transform="rotate(0 554.7 331)"/>
<ellipse cx="584.5" cy="349.5" rx="11" ry="13" fill="#505050" transform="rotate(0 584.5 349.5)"/>
<ellipse cx="621.6" cy="349" rx="10.5" ry="12.5" fill="#525252" transform="rotate(0 621.6 349)"/>
<ellipse cx="650.2" cy="368.5" rx="11" ry="13" fill="#585858" transform="rotate(0 650.2 368.5)"/>
<ellipse cx="455.5" cy="345" rx="13.5" ry="10" fill="#4e4e4e" transform="rotate(5 455.5 345)"/>
<ellipse cx="498.2" cy="359" rx="11" ry="9.5" fill="#484848" transform="rotate(15 498.2 359)"/>
<ellipse cx="529.9" cy="395.5" rx="11" ry="12.5" fill="#525252" transform="rotate(0 529.9 395.5)"/>
<ellipse cx="488.7" cy="408.2" rx="10.5" ry="12" fill="#525252" transform="rotate(0 488.7 408.2)"/>
<ellipse cx="447" cy="419" rx="8" ry="8" fill="#525252" transform="rotate(0 447 419)"/>
<ellipse cx="454" cy="397.5" rx="5.5" ry="6.5" fill="#7a7a7a" transform="rotate(0 454 397.5)"/>
<ellipse cx="498.6" cy="381" rx="3.6" ry="4" fill="#727272" transform="rotate(0 498.6 381)"/>
<ellipse cx="677" cy="389" rx="6" ry="10" fill="#545454" transform="rotate(0 677 389)"/>
<ellipse cx="591" cy="420" rx="9" ry="6" fill="#727272" transform="rotate(0 591 420)"/>
<ellipse cx="452" cy="291" rx="4" ry="4" fill="#747474" transform="rotate(0 452 291)"/>
<ellipse cx="585" cy="246" rx="10" ry="5" fill="#7a7a7a" transform="rotate(0 585 246)"/>
<ellipse cx="448" cy="252" rx="4" ry="8" fill="#5c5c5c" transform="rotate(0 448 252)"/>
</g>
<g filter="url(#b1)">
<path d="M460 272C462 262 476 258 490 258C502 257 514 256 520 260C512 266 500 268 496 276C494 286 490 292 482 292C470 290 458 284 460 272Z" fill="#505050"/>
<ellipse cx="473.5" cy="319" rx="23" ry="9.5" fill="#434343" transform="rotate(34 473.5 319)"/>
<ellipse cx="650.6" cy="319.5" rx="20" ry="16.5" fill="#363636" transform="rotate(25 650.6 319.5)"/>
<path d="M521 366C522 358 532 355 540 352C548 350 551 356 550 363C549 370 544 373 536 374C528 376 521 374 521 366Z" fill="#434343"/>
<path d="M558 382C560 376 572 374 584 375C598 376 608 380 606 387C603 394 590 396 578 394C566 393 556 390 558 382Z" fill="#454545"/>
</g>
</g>
<rect x="438.5" y="244.5" width="241.5" height="180" fill="none" stroke="#444" stroke-width="0.8"/>
<rect x="596.2" y="401.2" width="76.4" height="7.6" fill="#ff0000"/>
<text class="a" x="634" y="397.6" font-size="9.0" text-anchor="middle" font-weight="bold" fill="#e8141c">300 nm</text>
<text class="a" x="601.8" y="421.4" font-size="12.85" text-anchor="start" font-weight="normal" fill="#fff">RASTAK LAB</text>
<clipPath id="hc"><rect x="462.30" y="594.53" width="26.65" height="3.97"/><rect x="488.95" y="570.71" width="26.65" height="27.79"/><rect x="515.60" y="519.10" width="26.65" height="79.40"/><rect x="542.25" y="459.55" width="26.65" height="138.95"/><rect x="568.90" y="451.61" width="26.65" height="146.89"/><rect x="595.55" y="519.10" width="26.65" height="79.40"/><rect x="622.20" y="582.62" width="26.65" height="15.88"/><rect x="648.85" y="594.53" width="26.65" height="3.97"/></clipPath>
<path d="M357.2 439.7l103.1 158.8M358.7 439.7l103.1 158.8M360.2 439.7l103.1 158.8M362.8 439.7l103.1 158.8M364.3 439.7l103.1 158.8M365.8 439.7l103.1 158.8M368.4 439.7l103.1 158.8M369.9 439.7l103.1 158.8M371.4 439.7l103.1 158.8M374.0 439.7l103.1 158.8M375.5 439.7l103.1 158.8M377.0 439.7l103.1 158.8M379.6 439.7l103.1 158.8M381.1 439.7l103.1 158.8M382.6 439.7l103.1 158.8M385.2 439.7l103.1 158.8M386.7 439.7l103.1 158.8M388.2 439.7l103.1 158.8M390.8 439.7l103.1 158.8M392.3 439.7l103.1 158.8M393.8 439.7l103.1 158.8M396.4 439.7l103.1 158.8M397.9 439.7l103.1 158.8M399.4 439.7l103.1 158.8M402.0 439.7l103.1 158.8M403.5 439.7l103.1 158.8M405.0 439.7l103.1 158.8M407.6 439.7l103.1 158.8M409.1 439.7l103.1 158.8M410.6 439.7l103.1 158.8M413.2 439.7l103.1 158.8M414.7 439.7l103.1 158.8M416.2 439.7l103.1 158.8M418.8 439.7l103.1 158.8M420.3 439.7l103.1 158.8M421.8 439.7l103.1 158.8M424.4 439.7l103.1 158.8M425.9 439.7l103.1 158.8M427.4 439.7l103.1 158.8M430.0 439.7l103.1 158.8M431.5 439.7l103.1 158.8M433.0 439.7l103.1 158.8M435.6 439.7l103.1 158.8M437.1 439.7l103.1 158.8M438.6 439.7l103.1 158.8M441.2 439.7l103.1 158.8M442.7 439.7l103.1 158.8M444.2 439.7l103.1 158.8M446.8 439.7l103.1 158.8M448.3 439.7l103.1 158.8M449.8 439.7l103.1 158.8M452.4 439.7l103.1 158.8M453.9 439.7l103.1 158.8M455.4 439.7l103.1 158.8M458.0 439.7l103.1 158.8M459.5 439.7l103.1 158.8M461.0 439.7l103.1 158.8M463.7 439.7l103.1 158.8M465.1 439.7l103.1 158.8M466.6 439.7l103.1 158.8M469.3 439.7l103.1 158.8M470.7 439.7l103.1 158.8M472.2 439.7l103.1 158.8M474.9 439.7l103.1 158.8M476.4 439.7l103.1 158.8M477.8 439.7l103.1 158.8M480.5 439.7l103.1 158.8M482.0 439.7l103.1 158.8M483.4 439.7l103.1 158.8M486.1 439.7l103.1 158.8M487.6 439.7l103.1 158.8M489.0 439.7l103.1 158.8M491.7 439.7l103.1 158.8M493.2 439.7l103.1 158.8M494.7 439.7l103.1 158.8M497.3 439.7l103.1 158.8M498.8 439.7l103.1 158.8M500.3 439.7l103.1 158.8M502.9 439.7l103.1 158.8M504.4 439.7l103.1 158.8M505.9 439.7l103.1 158.8M508.5 439.7l103.1 158.8M510.0 439.7l103.1 158.8M511.5 439.7l103.1 158.8M514.1 439.7l103.1 158.8M515.6 439.7l103.1 158.8M517.1 439.7l103.1 158.8M519.7 439.7l103.1 158.8M521.2 439.7l103.1 158.8M522.7 439.7l103.1 158.8M525.3 439.7l103.1 158.8M526.8 439.7l103.1 158.8M528.3 439.7l103.1 158.8M530.9 439.7l103.1 158.8M532.4 439.7l103.1 158.8M533.9 439.7l103.1 158.8M536.5 439.7l103.1 158.8M538.0 439.7l103.1 158.8M539.5 439.7l103.1 158.8M542.1 439.7l103.1 158.8M543.6 439.7l103.1 158.8M545.1 439.7l103.1 158.8M547.7 439.7l103.1 158.8M549.2 439.7l103.1 158.8M550.7 439.7l103.1 158.8M553.3 439.7l103.1 158.8M554.8 439.7l103.1 158.8M556.3 439.7l103.1 158.8M558.9 439.7l103.1 158.8M560.4 439.7l103.1 158.8M561.9 439.7l103.1 158.8M564.5 439.7l103.1 158.8M566.0 439.7l103.1 158.8M567.5 439.7l103.1 158.8M570.1 439.7l103.1 158.8M571.6 439.7l103.1 158.8M573.1 439.7l103.1 158.8M575.7 439.7l103.1 158.8M577.2 439.7l103.1 158.8M578.7 439.7l103.1 158.8M581.3 439.7l103.1 158.8M582.8 439.7l103.1 158.8M584.3 439.7l103.1 158.8M586.9 439.7l103.1 158.8M588.4 439.7l103.1 158.8M589.9 439.7l103.1 158.8M592.5 439.7l103.1 158.8M594.0 439.7l103.1 158.8M595.5 439.7l103.1 158.8M598.2 439.7l103.1 158.8M599.6 439.7l103.1 158.8M601.1 439.7l103.1 158.8M603.8 439.7l103.1 158.8M605.2 439.7l103.1 158.8M606.7 439.7l103.1 158.8M609.4 439.7l103.1 158.8M610.8 439.7l103.1 158.8M612.3 439.7l103.1 158.8M615.0 439.7l103.1 158.8M616.5 439.7l103.1 158.8M617.9 439.7l103.1 158.8M620.6 439.7l103.1 158.8M622.1 439.7l103.1 158.8M623.5 439.7l103.1 158.8M626.2 439.7l103.1 158.8M627.7 439.7l103.1 158.8M629.2 439.7l103.1 158.8M631.8 439.7l103.1 158.8M633.3 439.7l103.1 158.8M634.8 439.7l103.1 158.8M637.4 439.7l103.1 158.8M638.9 439.7l103.1 158.8M640.4 439.7l103.1 158.8M643.0 439.7l103.1 158.8M644.5 439.7l103.1 158.8M646.0 439.7l103.1 158.8M648.6 439.7l103.1 158.8M650.1 439.7l103.1 158.8M651.6 439.7l103.1 158.8M654.2 439.7l103.1 158.8M655.7 439.7l103.1 158.8M657.2 439.7l103.1 158.8M659.8 439.7l103.1 158.8M661.3 439.7l103.1 158.8M662.8 439.7l103.1 158.8M665.4 439.7l103.1 158.8M666.9 439.7l103.1 158.8M668.4 439.7l103.1 158.8M671.0 439.7l103.1 158.8M672.5 439.7l103.1 158.8M674.0 439.7l103.1 158.8M676.6 439.7l103.1 158.8M678.1 439.7l103.1 158.8M679.6 439.7l103.1 158.8" stroke="#e04048" stroke-width="0.33" fill="none" clip-path="url(#hc)"/>
<rect x="462.3" y="594.5" width="26.65" height="4.0" fill="none" stroke="#e0474c" stroke-width="0.8"/>
<rect x="488.9" y="570.7" width="26.65" height="27.8" fill="none" stroke="#e0474c" stroke-width="0.8"/>
<rect x="515.6" y="519.1" width="26.65" height="79.4" fill="none" stroke="#e0474c" stroke-width="0.8"/>
<rect x="542.2" y="459.5" width="26.65" height="139.0" fill="none" stroke="#e0474c" stroke-width="0.8"/>
<rect x="568.9" y="451.6" width="26.65" height="146.9" fill="none" stroke="#e0474c" stroke-width="0.8"/>
<rect x="595.5" y="519.1" width="26.65" height="79.4" fill="none" stroke="#e0474c" stroke-width="0.8"/>
<rect x="622.2" y="582.6" width="26.65" height="15.9" fill="none" stroke="#e0474c" stroke-width="0.8"/>
<rect x="648.9" y="594.5" width="26.65" height="4.0" fill="none" stroke="#e0474c" stroke-width="0.8"/>
<polyline fill="none" stroke="#1a1aff" stroke-width="1.5" points="462.3,597.3 465.0,596.9 467.6,596.5 470.3,596.0 473.0,595.4 475.6,594.6 478.3,593.7 481.0,592.7 483.6,591.4 486.3,589.9 488.9,588.1 491.6,586.1 494.3,583.7 496.9,581.0 499.6,578.0 502.3,574.6 504.9,570.7 507.6,566.5 510.3,561.9 512.9,556.8 515.6,551.4 518.3,545.6 520.9,539.4 523.6,532.9 526.3,526.2 528.9,519.3 531.6,512.2 534.3,505.2 536.9,498.2 539.6,491.3 542.2,484.7 544.9,478.4 547.6,472.6 550.2,467.4 552.9,462.7 555.6,458.8 558.2,455.7 560.9,453.4 563.6,452.1 566.2,451.6 568.9,452.1 571.6,453.4 574.2,455.7 576.9,458.8 579.6,462.7 582.2,467.4 584.9,472.6 587.6,478.4 590.2,484.7 592.9,491.3 595.5,498.2 598.2,505.2 600.9,512.2 603.5,519.3 606.2,526.2 608.9,532.9 611.5,539.4 614.2,545.6 616.9,551.4 619.5,556.8 622.2,561.9 624.9,566.5 627.5,570.7 630.2,574.6 632.9,578.0 635.5,581.0 638.2,583.7 640.9,586.1 643.5,588.1 646.2,589.9 648.9,591.4 651.5,592.7 654.2,593.7 656.8,594.6 659.5,595.4 662.2,596.0 664.8,596.5 667.5,596.9 670.2,597.3 672.8,597.5 675.5,597.8"/>
<rect x="462.3" y="439.7" width="213.2" height="158.8" fill="none" stroke="#000" stroke-width="1.4"/>
<path d="M459.7 598.5H462.3M459.7 558.8H462.3M459.7 519.1H462.3M459.7 479.4H462.3M459.7 439.7H462.3M460.7 578.6H462.3M460.7 539.0H462.3M460.7 499.2H462.3M460.7 459.5H462.3M462.3 598.5V601.1M515.6 598.5V601.1M568.9 598.5V601.1M622.2 598.5V601.1M675.5 598.5V601.1M488.9 598.5V600.1M542.2 598.5V600.1M595.5 598.5V600.1M648.9 598.5V600.1" stroke="#000" stroke-width="1" fill="none"/>
<text class="a" x="458.1" y="602.1" font-size="10.1" text-anchor="end" font-weight="bold" fill="#000">0</text>
<text class="a" x="458.1" y="562.4" font-size="10.1" text-anchor="end" font-weight="bold" fill="#000">10</text>
<text class="a" x="458.1" y="522.7" font-size="10.1" text-anchor="end" font-weight="bold" fill="#000">20</text>
<text class="a" x="458.1" y="483.0" font-size="10.1" text-anchor="end" font-weight="bold" fill="#000">30</text>
<text class="a" x="458.1" y="443.3" font-size="10.1" text-anchor="end" font-weight="bold" fill="#000">40</text>
<text class="a" x="462.3" y="610.9" font-size="10.1" text-anchor="middle" font-weight="bold" fill="#000">60</text>
<text class="a" x="515.6" y="610.9" font-size="10.1" text-anchor="middle" font-weight="bold" fill="#000">80</text>
<text class="a" x="568.9" y="610.9" font-size="10.1" text-anchor="middle" font-weight="bold" fill="#000">100</text>
<text class="a" x="622.2" y="610.9" font-size="10.1" text-anchor="middle" font-weight="bold" fill="#000">120</text>
<text class="a" x="675.5" y="610.9" font-size="10.1" text-anchor="middle" font-weight="bold" fill="#000">140</text>
<text class="a" x="566.6" y="624.8" font-size="10.4" text-anchor="middle" font-weight="bold" fill="#000">Particle size distribution (nm)</text>
<text class="a" transform="translate(442.2,521.8) rotate(-90)" font-size="10.2" text-anchor="middle" font-weight="bold">Freqency</text>
<text class="a" x="468.8" y="455.4" font-size="9.9" text-anchor="start" font-weight="bold" fill="#ee1111">(b)</text>
<text class="a" x="603.8" y="457.8" font-size="10.1" text-anchor="start" font-weight="bold" fill="#000">Mean= 97 nm</text>
<text class="a" x="603.8" y="470.6" font-size="10.1" text-anchor="start" font-weight="bold" fill="#000">Std. Dev= 18</text>
<text class="a" x="603.8" y="483.4" font-size="10.1" text-anchor="start" font-weight="bold" fill="#000">N= 90</text>
</svg></body></html>
